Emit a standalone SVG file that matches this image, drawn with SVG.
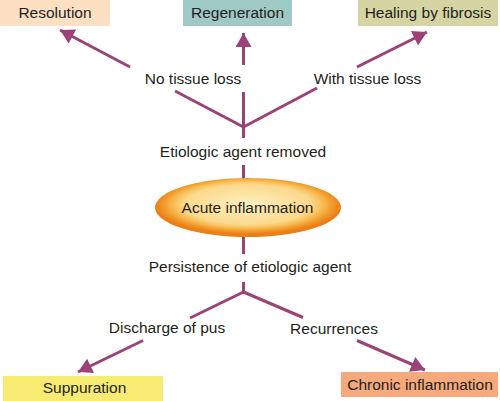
<svg xmlns="http://www.w3.org/2000/svg" width="500" height="401" viewBox="0 0 500 401">
<style>
.t{font-family:"Liberation Sans",Arial,sans-serif;font-size:15.5px;fill:#231f20;text-anchor:middle}
.c{stroke:#9b4378;stroke-width:3;fill:none}
</style>
<defs>
<marker id="ah" markerUnits="userSpaceOnUse" markerWidth="16" markerHeight="16" viewBox="0 0 14 16" refX="14" refY="8" orient="auto">
<path d="M0,0 L14,8 L0,16 Z" fill="#9b4378"/>
</marker>
<radialGradient id="eg" cx="0.5" cy="0.45" r="0.5">
<stop offset="0" stop-color="#fdf0c2"/>
<stop offset="0.68" stop-color="#fcd98c"/>
<stop offset="0.8" stop-color="#f8bd55"/>
<stop offset="0.9" stop-color="#f29d2e"/>
<stop offset="1" stop-color="#ea7f18"/>
</radialGradient>
</defs>
<g id="connectors">
<line class="c" x1="243.5" y1="127" x2="243.5" y2="92"/>
<line class="c" x1="243.5" y1="65" x2="243.5" y2="33" marker-end="url(#ah)"/>
<line class="c" x1="243.5" y1="127" x2="175" y2="91"/>
<line class="c" x1="130" y1="67" x2="60" y2="30" marker-end="url(#ah)"/>
<line class="c" x1="243.5" y1="127" x2="317" y2="88"/>
<line class="c" x1="357" y1="67" x2="427" y2="32" marker-end="url(#ah)"/>
<line class="c" x1="243.5" y1="125.5" x2="243.5" y2="138"/>
<line class="c" x1="243.5" y1="165" x2="243.5" y2="180"/>
<line class="c" x1="243.5" y1="236" x2="243.5" y2="254"/>
<line class="c" x1="243.5" y1="282" x2="243.5" y2="293.5"/>
<line class="c" x1="243.5" y1="292" x2="190" y2="318"/>
<line class="c" x1="143" y1="340.5" x2="78" y2="372" marker-end="url(#ah)"/>
<line class="c" x1="243.5" y1="292" x2="303" y2="317.5"/>
<line class="c" x1="357" y1="340.5" x2="425" y2="370" marker-end="url(#ah)"/>
</g>
<g id="resolution">
<rect x="0" y="0" width="110" height="26" fill="#fde0c2"/>
<text class="t" x="55" y="18">Resolution</text>
</g>
<g id="regeneration">
<rect x="183" y="0" width="109" height="26" fill="#9fc9c5"/>
<text class="t" x="237.5" y="18">Regeneration</text>
</g>
<g id="healing">
<rect x="358" y="0" width="140" height="26" fill="#d6d4a2"/>
<text class="t" x="428" y="18">Healing by fibrosis</text>
</g>
<g id="label-no-loss"><text class="t" x="193" y="84">No tissue loss</text></g>
<g id="label-with-loss"><text class="t" x="367.5" y="84">With tissue loss</text></g>
<g id="label-removed"><text class="t" x="243" y="157">Etiologic agent removed</text></g>
<g id="acute">
<ellipse cx="248" cy="207.5" rx="93" ry="29.5" fill="url(#eg)"/>
<text class="t" x="247.5" y="213">Acute inflammation</text>
</g>
<g id="label-persistence"><text class="t" x="250" y="272">Persistence of etiologic agent</text></g>
<g id="label-discharge"><text class="t" x="167" y="333">Discharge of pus</text></g>
<g id="label-recurrences"><text class="t" x="334" y="334">Recurrences</text></g>
<g id="suppuration">
<rect x="3" y="376" width="160" height="25" fill="#f8eb72"/>
<text class="t" x="84.5" y="393">Suppuration</text>
</g>
<g id="chronic">
<rect x="341" y="372" width="157" height="25" fill="#f6a97c"/>
<text class="t" x="420" y="390">Chronic inflammation</text>
</g>
</svg>
